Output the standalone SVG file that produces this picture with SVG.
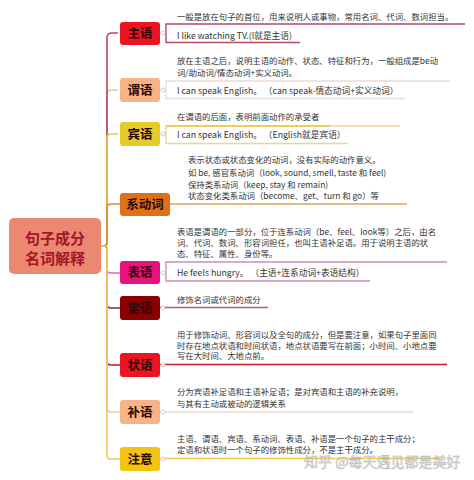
<svg xmlns="http://www.w3.org/2000/svg" width="474" height="480" viewBox="0 0 474 480">
<style>
.t{font-family:"Noto Sans CJK SC","Noto Sans",sans-serif;font-size:8.4px;fill:#333}
.b{font-family:"Noto Sans CJK SC","Noto Sans",sans-serif;font-size:8.7px;fill:#333}
.n{font-family:"Noto Sans CJK SC",sans-serif;font-size:12.5px;font-weight:bold;fill:#2a0808;text-anchor:middle}
.c{font-family:"Noto Sans CJK SC",sans-serif;font-size:15px;font-weight:bold;fill:#a3152a;text-anchor:middle}
.br{fill:none;stroke-width:1.6}
.ln{fill:none;stroke-width:1.4}
.knob{fill:#fff;stroke:#d0d0d0;stroke-width:1}
.dot{stroke:#ccc;stroke-width:1;stroke-dasharray:1.5 1.5}
</style>
<rect width="474" height="480" fill="#fff"/>
<g id="connectors">
<path class="br" stroke="#f2c2a2" d="M101,246 H104 Q107,246 107,242 V94 Q107,90 111,90 H118"/>
<path class="br" stroke="#b5485e" d="M101,246 H104 Q107,246 107,242 V38 Q107,33 112,33 H118"/>
<path class="br" stroke="#e8c840" d="M101,246 H104 Q107,246 107,242 V138 Q107,134 111,134 H118"/>
<path class="br" stroke="#d98a3c" d="M101,246 H104 Q107,246 107,242 V208 Q107,204 111,204 H120"/>
<path class="br" stroke="#d070a8" d="M101,246 H104 Q107,246 107,250 V269 Q107,273 111,273 H120"/>
<path class="br" stroke="#8a2838" d="M101,246 H104 Q107,246 107,250 V304 Q107,308 111,308 H120"/>
<path class="br" stroke="#b02028" d="M101,246 H104 Q107,246 107,250 V361 Q107,365 111,365 H120"/>
<path class="br" stroke="#f0c8b0" d="M101,246 H104 Q107,246 107,250 V408 Q107,412 111,412 H120"/>
<path class="br" stroke="#f0c850" d="M101,246 H104 Q107,246 107,250 V455 Q107,459 111,459 H120"/>
<path class="ln" stroke="#b5486a" d="M465,24 H166 V42.5 H300"/>
<path class="ln" stroke="#e8dcd4" d="M450,81 H166 V98.5 H405"/>
<path class="ln" stroke="#ecd890" d="M400,126 H166 V143.5 H348"/>
<path class="ln" stroke="#e8c840" d="M166,126 H330"/>
<path class="ln" stroke="#e0a060" d="M170,204 H407"/>
<path class="ln" stroke="#c890b8" d="M447,262 H166 V281 H370"/>
<path class="ln" stroke="#b85868" d="M160,307.5 H268"/>
<path class="ln" stroke="#c0202c" d="M160,364.5 H447"/>
<path class="ln" stroke="#ead8d0" d="M160,412 H413"/>
<path class="ln" stroke="#f0c848" d="M160,458.5 H440"/>
<path class="dot" d="M160,33 H166 M160,90 H166 M160,134 H166 M160,273 H166"/>
</g>
<g id="center">
<rect x="9" y="218" width="92" height="56" rx="5" fill="#ec8870"/>
<text class="c" x="55" y="244">句子成分</text>
<text class="c" x="55" y="264">名词解释</text>
</g>
<g id="zhuyu">
<rect x="120" y="22" width="40" height="23" rx="3" fill="#ea1520"/>
<text class="n" x="140" y="38">主语</text>
<circle class="knob" cx="163" cy="33" r="2"/>
<text class="t" x="177" y="20">一般是放在句子的首位，用来说明人或事物，常用名词、代词、数词担当。</text>
<text class="b" x="177" y="39">I like watching TV.(I就是主语)</text>
</g>
<g id="weiyu">
<rect x="120" y="78" width="40" height="24" rx="3" fill="#f5b386"/>
<text class="n" x="140" y="94.5">谓语</text>
<circle class="knob" cx="163" cy="90" r="2"/>
<text class="t" x="177" y="64">放在主语之后，说明主语的动作、状态、特征和行为，一般组成是be动</text>
<text class="t" x="177" y="76">词/助动词/情态动词+实义动词。</text>
<text class="b" x="177" y="94">I can speak English。 （can speak-情态动词+实义动词）</text>
</g>
<g id="binyu">
<rect x="120" y="122" width="40" height="24" rx="3" fill="#e3cb2c"/>
<text class="n" x="140" y="138.5">宾语</text>
<circle class="knob" cx="163" cy="134" r="2"/>
<text class="t" x="177" y="120">在谓语的后面，表明前面动作的承受者</text>
<text class="b" x="177" y="138">I can speak English。 （English就是宾语）</text>
</g>
<g id="xidongci">
<rect x="120" y="193" width="50" height="23" rx="3" fill="#e07018"/>
<text class="n" x="145" y="209">系动词</text>
<text class="t" x="188" y="163">表示状态或状态变化的动词，没有实际的动作意义。</text>
<text class="t" x="188" y="176">如 be, 感官系动词（look, sound, smell, taste 和 feel)</text>
<text class="t" x="188" y="187.5">保持类系动词（keep, stay 和 remain)</text>
<text class="t" x="188" y="199">状态变化类系动词（become、get、turn 和 go）等</text>
</g>
<g id="biaoyu">
<rect x="120" y="261" width="40" height="23" rx="3" fill="#e8127c"/>
<text class="n" x="140" y="277">表语</text>
<circle class="knob" cx="163" cy="273" r="2"/>
<text class="t" x="177" y="235">表语是谓语的一部分，位于连系动词（be、feel、look等）之后，由名</text>
<text class="t" x="177" y="246">词、代词、数词、形容词担任，也叫主语补足语。用于说明主语的状</text>
<text class="t" x="177" y="256.5">态、特征、属性、身份等。</text>
<text class="b" x="177" y="276">He feels hungry。 （主语+连系动词+表语结构）</text>
</g>
<g id="dingyu">
<rect x="120" y="296" width="40" height="24" rx="3" fill="#8a0000"/>
<text class="n" x="140" y="312.5">定语</text>
<circle class="knob" cx="163" cy="308" r="2"/>
<text class="t" x="177" y="303">修饰名词或代词的成分</text>
</g>
<g id="zhuangyu">
<rect x="120" y="353" width="40" height="24" rx="3" fill="#ea1520"/>
<text class="n" x="140" y="369.5">状语</text>
<circle class="knob" cx="163" cy="365" r="2"/>
<text class="t" x="177" y="338">用于修饰动词、形容词以及全句的成分，但是要注意，如果句子里面同</text>
<text class="t" x="177" y="348.5">时存在地点状语和时间状语，地点状语要写在前面；小时间、小地点要</text>
<text class="t" x="177" y="359">写在大时间、大地点前。</text>
</g>
<g id="buyu">
<rect x="120" y="400" width="40" height="24" rx="3" fill="#f5b386"/>
<text class="n" x="140" y="416.5">补语</text>
<circle class="knob" cx="163" cy="412" r="2"/>
<text class="t" x="177" y="395">分为宾语补足语和主语补足语；是对宾语和主语的补充说明，</text>
<text class="t" x="177" y="407">与其有主动或被动的逻辑关系</text>
</g>
<g id="zhuyi">
<rect x="120" y="447" width="40" height="24" rx="3" fill="#f3c312"/>
<text class="n" x="140" y="463.5">注意</text>
<circle class="knob" cx="163" cy="459" r="2"/>
<text class="t" x="177" y="442">主语、谓语、宾语、系动词、表语、补语是一个句子的主干成分；</text>
<text class="t" x="177" y="453">定语和状语时一个句子的修饰性成分，不是主干成分。</text>
</g>
<text x="304" y="467" font-family="Noto Sans CJK SC,sans-serif" font-size="14" fill="#d8d8d8" stroke="#a8a8a8" stroke-width="0.4" opacity="0.85">知乎 @每天遇见都是美好</text>
</svg>
